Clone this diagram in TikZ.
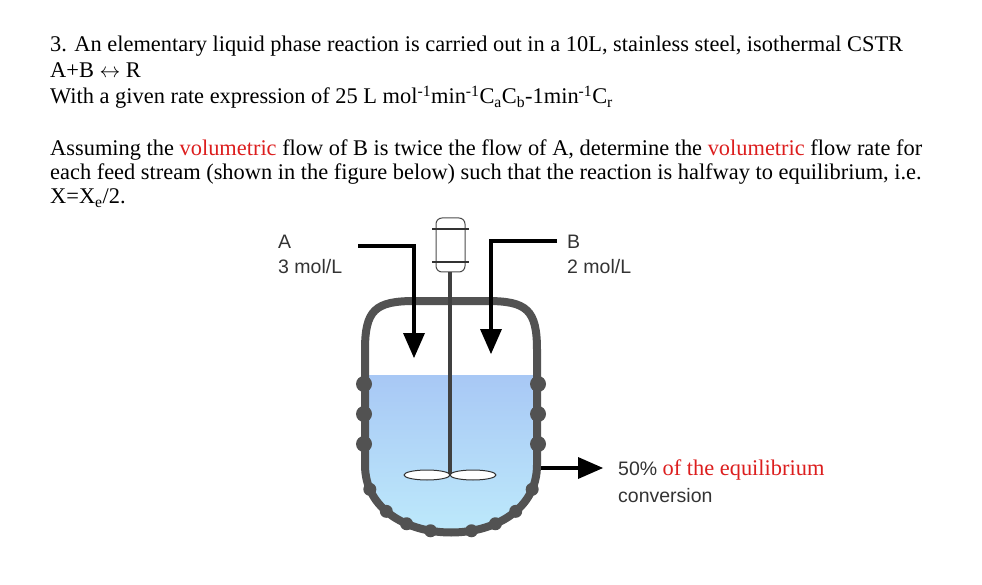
\documentclass[tikz,border=0pt]{standalone}
\usepackage{fontspec}
\setmainfont{Liberation Serif}
\newfontfamily\lsans{Liberation Sans}
\begin{document}
\begin{tikzpicture}[x=1pt,y=-1pt,
  txt/.style={anchor=base west,inner sep=0pt,font=\fontsize{22.4}{26}\selectfont},
  lab/.style={anchor=base west,inner sep=0pt,font=\lsans\fontsize{19.5}{22}\selectfont,text=black!80},
  wall/.style={draw=black!68,line width=8pt},
  feed/.style={line width=3.5pt,draw=black},
  tri/.style={fill=black}]
\useasboundingbox (0,0) rectangle (982,585);
\definecolor{rd}{RGB}{220,30,30}
\node[txt] (l1) at (50,52) {3. An elementary liquid phase reaction is carried out in a 10L, stainless steel, isothermal CSTR};
\node[txt] (l2) at (50,78) {A+B $\leftrightarrow$ R};
\node[txt] (l3) at (50,104) {With a given rate expression of 25 L mol\textsuperscript{-1}min\textsuperscript{-1}C\textsubscript{a}C\textsubscript{b}-1min\textsuperscript{-1}C\textsubscript{r}};
\node[txt] (l4) at (50,156) {Assuming the \textcolor{rd}{volumetric} flow of B is twice the flow of A, determine the \textcolor{rd}{volumetric} flow rate for};
\node[txt] (l5) at (50,180) {each feed stream (shown in the figure below) such that the reaction is halfway to equilibrium, i.e.};
\node[txt] (l6) at (50,204) {X=X\textsubscript{e}/2.};
% liquid
\shade[top color={rgb,255:red,168;green,200;blue,245}, bottom color={rgb,255:red,192;green,238;blue,252}]
  (365,375) -- (365,465) .. controls (365,555) and (537,555) .. (537,465) -- (537,375) -- cycle;
% bumps
\foreach \y in {384,414,444} {\fill[black!68] (364,\y) circle (8); \fill[black!68] (538,\y) circle (8);}
\path (365,465) .. controls (365,555) and (537,555) .. (537,465)
  \foreach \t in {0.1,0.22,0.32,0.42,0.58,0.68,0.78,0.9} {node[pos=\t,circle,fill=black!68,inner sep=0pt,minimum size=13pt] {}};
% vessel
\draw[wall] (365,465) -- (365,350) .. controls (365,310) and (375,301) .. (415,301) -- (487,301) .. controls (527,301) and (537,310) .. (537,350) -- (537,465) .. controls (537,555) and (365,555) .. (365,465) -- cycle;
% motor
\draw[black!70,line width=1pt,rounded corners=6pt,fill=white] (436,218) rectangle (465,272);
\draw[black!80,line width=2.5pt] (432,229) -- (469,229) (432,262) -- (469,262);
% shaft
\draw[black!75,line width=4.5pt] (450,272) -- (450,475);
\draw[black!80,line width=1pt,fill=white] (427,475) ellipse (23 and 5) (473,475) ellipse (23 and 5);
% feeds
\coordinate (a0) at (358,246); \coordinate (a1) at (414,246); \coordinate (a2) at (414,335);
\draw[feed] (a0) -- (a1) -- (a2);
\fill[tri] (403,333) -- (425,333) -- (414,358) -- cycle;
\coordinate (b0) at (557,241); \coordinate (b1) at (491,241); \coordinate (b2) at (491,331);
\draw[feed] (b0) -- (b1) -- (b2);
\fill[tri] (480,329) -- (502,329) -- (491,354) -- cycle;
\coordinate (o0) at (541,468); \coordinate (o1) at (580,468);
\draw[feed] (o0) -- (o1);
\fill[tri] (578,457) -- (603,468) -- (578,479) -- cycle;
\node[lab] (la) at (278,249) {A};
\node[lab] (la2) at (278,273) {3 mol/L};
\node[lab] (lb) at (567,249) {B};
\node[lab] (lb2) at (567,273) {2 mol/L};
\node[lab] (lo) at (618,475) {50\% \textcolor{rd}{\rmfamily\fontsize{22.4}{26}\selectfont of the equilibrium}};
\node[lab] (lo2) at (618,502) {conversion};
\end{tikzpicture}
\end{document}
